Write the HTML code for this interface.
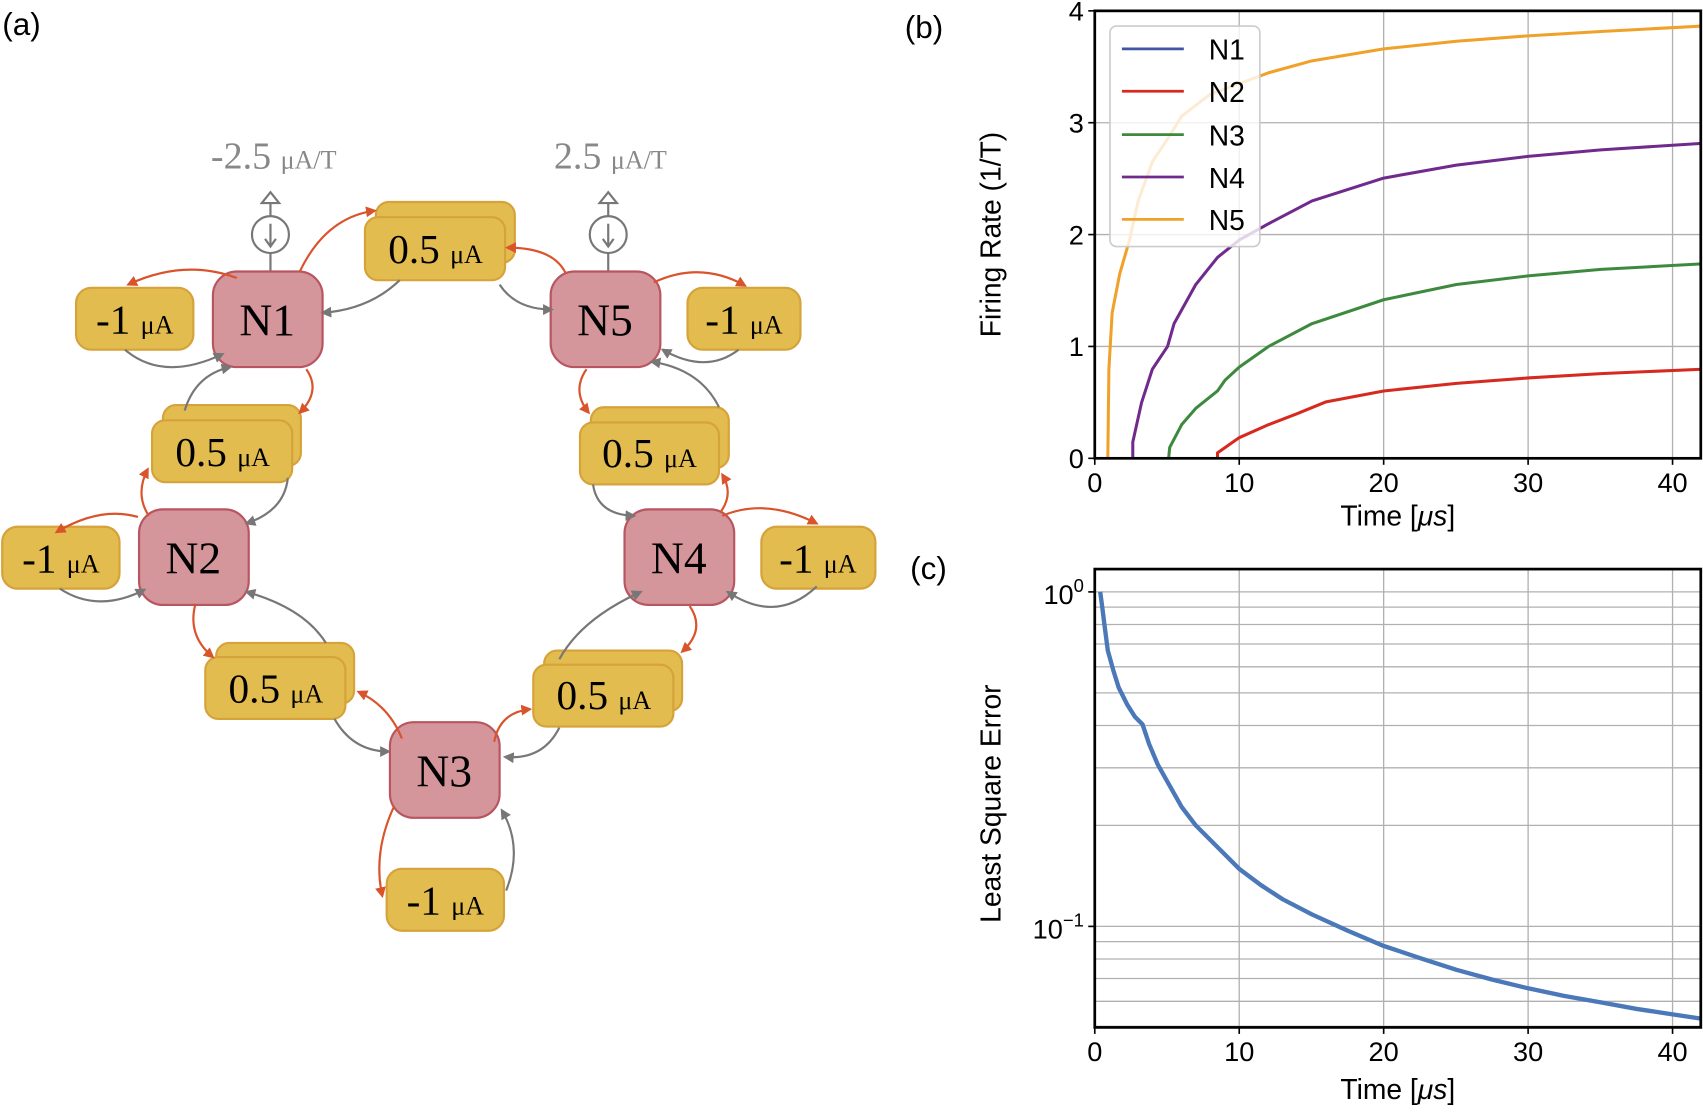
<!DOCTYPE html>
<html><head><meta charset="utf-8"><style>html,body{margin:0;padding:0;background:#fff}svg{display:block}</style></head>
<body>
<svg width="1703" height="1117" viewBox="0 0 1568 1028.5" xmlns="http://www.w3.org/2000/svg">
<defs>
<marker id="ar" viewBox="0 0 10 10" refX="8" refY="5" markerWidth="5" markerHeight="5" orient="auto"><path d="M0,0 L10,5 L0,10 z" fill="#d9532b"/></marker>
<marker id="ag" viewBox="0 0 10 10" refX="8" refY="5" markerWidth="5" markerHeight="5" orient="auto"><path d="M0,0 L10,5 L0,10 z" fill="#777"/></marker>
</defs>
<g font-family="Liberation Sans, sans-serif" font-size="29" fill="#000">
<text x="2" y="32">(a)</text>
<text x="833" y="35">(b)</text>
<text x="838" y="533">(c)</text>
</g>

<!-- Panel (a) -->
<g font-family="Liberation Serif, serif">
<text x="252" y="155" text-anchor="middle" fill="#888" font-size="35">-2.5 <tspan font-size="24">μA/T</tspan></text>
<text x="562" y="155" text-anchor="middle" fill="#888" font-size="35">2.5 <tspan font-size="24">μA/T</tspan></text>
<g stroke="#777" stroke-width="2" fill="none">
<line x1="249" y1="186" x2="249" y2="199"/><path d="M241,187 L249,177 L257,187 z" fill="#fff"/><circle cx="249" cy="216" r="17" fill="#fff"/><line x1="249" y1="206" x2="249" y2="226"/><path d="M244,220 L249,227 L254,220"/><line x1="249" y1="233" x2="249" y2="250"/>
<line x1="560" y1="186" x2="560" y2="199"/><path d="M552,187 L560,177 L568,187 z" fill="#fff"/><circle cx="560" cy="216" r="17" fill="#fff"/><line x1="560" y1="206" x2="560" y2="226"/><path d="M555,220 L560,227 L565,220"/><line x1="560" y1="233" x2="560" y2="250"/>
</g>
<g fill="#e2bc4e" stroke="#d6a23a" stroke-width="2">
<rect x="346" y="186" width="128" height="56" rx="12"/>
<rect x="150" y="373" width="127" height="56" rx="12"/>
<rect x="544" y="375" width="127" height="56" rx="12"/>
<rect x="199" y="592" width="127" height="56" rx="12"/>
<rect x="501" y="599" width="127" height="56" rx="12"/>
<rect x="336" y="200" width="129" height="58" rx="12"/>
<rect x="140" y="387" width="129" height="57" rx="12"/>
<rect x="534" y="389" width="128" height="57" rx="12"/>
<rect x="189" y="605" width="129" height="57" rx="12"/>
<rect x="491" y="612" width="129" height="57" rx="12"/>
<rect x="70" y="265" width="108" height="57" rx="14"/>
<rect x="633" y="265" width="104" height="57" rx="14"/>
<rect x="2" y="485" width="108" height="57" rx="14"/>
<rect x="701" y="485" width="105" height="57" rx="14"/>
<rect x="356" y="800" width="108" height="57" rx="14"/>
</g>
<g fill="#d4959b" stroke="#b85560" stroke-width="2">
<rect x="196" y="250" width="101" height="88" rx="22"/>
<rect x="507" y="250" width="101" height="88" rx="22"/>
<rect x="128" y="469" width="101" height="88" rx="22"/>
<rect x="575" y="469" width="101" height="88" rx="22"/>
<rect x="359" y="665" width="101" height="88" rx="22"/>
</g>
<g font-size="42" text-anchor="middle" fill="#000">
<text x="246" y="309">N1</text><text x="557" y="309">N5</text><text x="178" y="528">N2</text><text x="625" y="528">N4</text><text x="409" y="724">N3</text>
</g>
<g font-size="38" fill="#000" text-anchor="middle">
<text x="401" y="242">0.5 <tspan font-size="24">μA</tspan></text>
<text x="205" y="429">0.5 <tspan font-size="24">μA</tspan></text>
<text x="598" y="430">0.5 <tspan font-size="24">μA</tspan></text>
<text x="254" y="647">0.5 <tspan font-size="24">μA</tspan></text>
<text x="556" y="653">0.5 <tspan font-size="24">μA</tspan></text>
<text x="124" y="307">-1 <tspan font-size="24">μA</tspan></text>
<text x="685" y="307">-1 <tspan font-size="24">μA</tspan></text>
<text x="56" y="527">-1 <tspan font-size="24">μA</tspan></text>
<text x="753" y="527">-1 <tspan font-size="24">μA</tspan></text>
<text x="410" y="842">-1 <tspan font-size="24">μA</tspan></text>
</g>
<g fill="none" stroke-width="2">
<g stroke="#d9532b" marker-end="url(#ar)">
<path d="M218,256 Q170,238 118,262"/>
<path d="M276,250 Q300,200 345,194"/>
<path d="M521,252 Q510,228 467,228"/>
<path d="M602,260 Q645,240 686,263"/>
<path d="M282,340 Q296,360 276,380"/>
<path d="M137,475 Q124,455 136,432"/>
<path d="M127,476 Q92,466 52,490"/>
<path d="M180,556 Q172,585 196,605"/>
<path d="M370,680 Q358,650 330,637"/>
<path d="M455,683 Q460,656 488,653"/>
<path d="M635,558 Q650,580 628,600"/>
<path d="M665,475 Q705,458 752,482"/>
<path d="M663,472 Q676,455 665,437"/>
<path d="M540,340 Q526,360 542,380"/>
<path d="M363,742 Q343,785 352,825"/>
</g>
<g stroke="#777" marker-end="url(#ag)">
<path d="M115,322 Q150,352 205,326"/>
<path d="M368,258 Q340,285 297,288"/>
<path d="M460,262 Q475,285 508,285"/>
<path d="M680,322 Q650,345 610,322"/>
<path d="M170,378 Q180,345 212,338"/>
<path d="M265,440 Q262,470 227,482"/>
<path d="M55,542 Q90,565 133,543"/>
<path d="M300,592 Q280,560 227,545"/>
<path d="M308,662 Q325,692 358,692"/>
<path d="M515,670 Q500,700 465,697"/>
<path d="M515,607 Q535,570 590,545"/>
<path d="M752,540 Q715,575 670,545"/>
<path d="M546,446 Q550,474 584,475"/>
<path d="M662,375 Q645,340 600,333"/>
<path d="M466,820 Q482,780 462,746"/>
</g>
</g>
</g>

<!-- Panel (b) -->
<g font-family="Liberation Sans, sans-serif">
<g stroke="#b0b0b0" stroke-width="1.2">
<line x1="1141" y1="10" x2="1141" y2="422"/><line x1="1274" y1="10" x2="1274" y2="422"/><line x1="1407" y1="10" x2="1407" y2="422"/><line x1="1540" y1="10" x2="1540" y2="422"/>
<line x1="1008" y1="113" x2="1566" y2="113"/><line x1="1008" y1="216" x2="1566" y2="216"/><line x1="1008" y1="319" x2="1566" y2="319"/>
</g>
<g fill="none" stroke-width="2.8" stroke-linejoin="round">
<polyline stroke="#d62a20" points="1121,422 1121,417 1141,403 1168,391 1194,381 1221,370 1274,360 1341,353 1407,348 1474,344 1567,340"/>
<polyline stroke="#3d8a3f" points="1076,422 1077,412 1088,391 1101,376 1121,360 1128,350 1141,338 1168,319 1208,298 1274,276 1341,262 1407,254 1474,248 1567,243"/>
<polyline stroke="#702a8c" points="1043,422 1043,407 1051,371 1061,340 1075,319 1081,298 1101,262 1121,237 1141,221 1168,206 1208,185 1274,164 1341,152 1407,144 1474,138 1567,132"/>
<polyline stroke="#f0a12a" points="1020,422 1021,340 1024,288 1031,252 1040,221 1048,185 1061,149 1075,128 1088,107 1114,87 1141,77 1168,67 1208,56 1274,45 1341,38 1407,33 1474,29 1567,24"/>
</g>
<rect x="1022" y="24" width="138" height="203" rx="6" fill="#fff" fill-opacity="0.8" stroke="#ccc" stroke-width="1.5"/>
<g stroke-width="2.5">
<line x1="1033" y1="45" x2="1090" y2="45" stroke="#4054a8"/>
<line x1="1033" y1="84" x2="1090" y2="84" stroke="#d62a20"/>
<line x1="1033" y1="124" x2="1090" y2="124" stroke="#3d8a3f"/>
<line x1="1033" y1="163" x2="1090" y2="163" stroke="#702a8c"/>
<line x1="1033" y1="202" x2="1090" y2="202" stroke="#f0a12a"/>
</g>
<g font-size="26"><text x="1113" y="55">N1</text><text x="1113" y="94">N2</text><text x="1113" y="134">N3</text><text x="1113" y="173">N4</text><text x="1113" y="212">N5</text></g>
<rect x="1008" y="10" width="558" height="412" fill="none" stroke="#000" stroke-width="2.5"/>
<g stroke="#000" stroke-width="1.5">
<line x1="1002" y1="10" x2="1008" y2="10"/><line x1="1002" y1="113" x2="1008" y2="113"/><line x1="1002" y1="216" x2="1008" y2="216"/><line x1="1002" y1="319" x2="1008" y2="319"/><line x1="1002" y1="422" x2="1008" y2="422"/>
<line x1="1008" y1="422" x2="1008" y2="428"/><line x1="1141" y1="422" x2="1141" y2="428"/><line x1="1274" y1="422" x2="1274" y2="428"/><line x1="1407" y1="422" x2="1407" y2="428"/><line x1="1540" y1="422" x2="1540" y2="428"/>
</g>
<g font-size="25" text-anchor="end"><text x="998" y="19">4</text><text x="998" y="122">3</text><text x="998" y="225">2</text><text x="998" y="328">1</text><text x="998" y="431">0</text></g>
<g font-size="25" text-anchor="middle"><text x="1008" y="453">0</text><text x="1141" y="453">10</text><text x="1274" y="453">20</text><text x="1407" y="453">30</text><text x="1540" y="453">40</text></g>
<text x="1287" y="484" font-size="26" text-anchor="middle">Time [<tspan font-style="italic">μs</tspan>]</text>
<text transform="translate(921,216) rotate(-90)" font-size="26" text-anchor="middle">Firing Rate (1/T)</text>
</g>

<!-- Panel (c) -->
<g font-family="Liberation Sans, sans-serif">
<g stroke="#b0b0b0" stroke-width="1.2">
<line x1="1141" y1="524" x2="1141" y2="946"/><line x1="1274" y1="524" x2="1274" y2="946"/><line x1="1407" y1="524" x2="1407" y2="946"/><line x1="1540" y1="524" x2="1540" y2="946"/>
<line x1="1008" y1="545" x2="1566" y2="545"/><line x1="1008" y1="559" x2="1566" y2="559"/><line x1="1008" y1="575" x2="1566" y2="575"/><line x1="1008" y1="593" x2="1566" y2="593"/><line x1="1008" y1="614" x2="1566" y2="614"/><line x1="1008" y1="638" x2="1566" y2="638"/><line x1="1008" y1="668" x2="1566" y2="668"/><line x1="1008" y1="707" x2="1566" y2="707"/><line x1="1008" y1="760" x2="1566" y2="760"/>
<line x1="1008" y1="853" x2="1566" y2="853"/><line x1="1008" y1="867" x2="1566" y2="867"/><line x1="1008" y1="883" x2="1566" y2="883"/><line x1="1008" y1="901" x2="1566" y2="901"/><line x1="1008" y1="922" x2="1566" y2="922"/><line x1="1008" y1="945" x2="1566" y2="945"/>
</g>
<polyline fill="none" stroke="#4a78b8" stroke-width="4" stroke-linejoin="round" points="1013,545 1015,560 1017,576 1020,599 1025,617 1030,633 1038,649 1045,660 1052,667 1058,685 1066,704 1075,720 1088,743 1101,760 1121,780 1141,800 1161,815 1181,828 1208,842 1241,857 1274,871 1307,882 1341,893 1374,902 1407,910 1440,917 1474,923 1507,929 1540,934 1567,938"/>
<rect x="1008" y="524" width="558" height="422" fill="none" stroke="#000" stroke-width="2.5"/>
<g stroke="#000" stroke-width="1.5">
<line x1="1002" y1="545" x2="1008" y2="545"/><line x1="1002" y1="853" x2="1008" y2="853"/>
<line x1="1008" y1="946" x2="1008" y2="952"/><line x1="1141" y1="946" x2="1141" y2="952"/><line x1="1274" y1="946" x2="1274" y2="952"/><line x1="1407" y1="946" x2="1407" y2="952"/><line x1="1540" y1="946" x2="1540" y2="952"/>
</g>
<text x="998" y="556" font-size="25" text-anchor="end">10<tspan font-size="17" dy="-11">0</tspan></text>
<text x="998" y="864" font-size="25" text-anchor="end">10<tspan font-size="17" dy="-11">−1</tspan></text>
<g font-size="25" text-anchor="middle"><text x="1008" y="977">0</text><text x="1141" y="977">10</text><text x="1274" y="977">20</text><text x="1407" y="977">30</text><text x="1540" y="977">40</text></g>
<text x="1287" y="1012" font-size="26" text-anchor="middle">Time [<tspan font-style="italic">μs</tspan>]</text>
<text transform="translate(921,740) rotate(-90)" font-size="26" text-anchor="middle">Least Square Error</text>
</g>
</svg>
</body></html>
